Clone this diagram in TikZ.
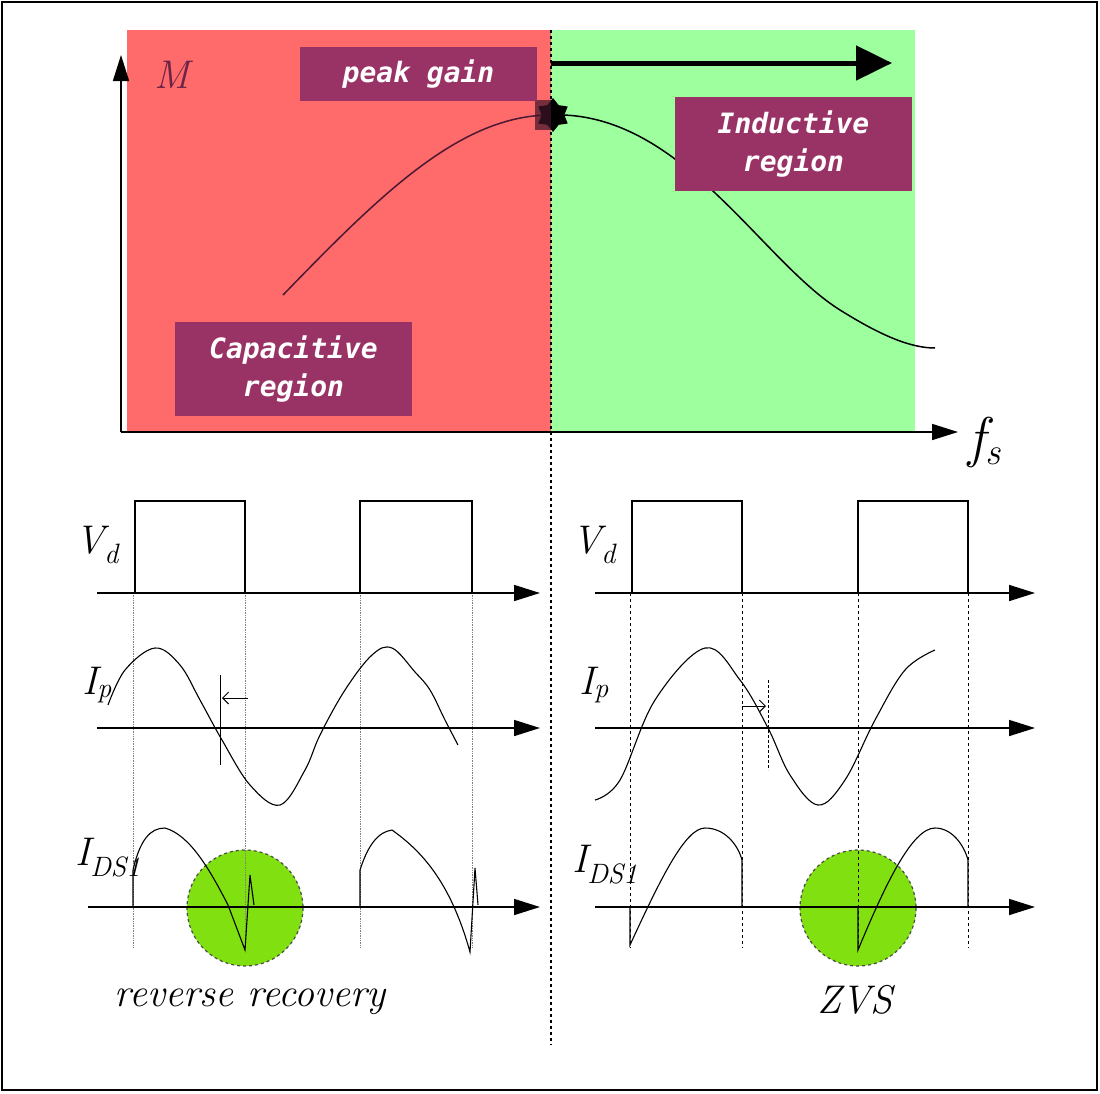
\documentclass[tikz,border=0pt]{standalone}
\usepackage{fontspec}
\newfontfamily\boxfont{DejaVu Sans Mono}
\usetikzlibrary{arrows.meta,shapes.geometric}
\definecolor{redbg}{HTML}{FF6A6A}
\definecolor{greenbg}{HTML}{9DFF9D}
\definecolor{purp}{HTML}{993366}
\definecolor{circ}{HTML}{80E010}
\tikzset{
 lbl/.style={fill=purp,text=white,font=\boxfont\bfseries\itshape\fontsize{28}{38}\selectfont,align=center,inner sep=0pt},
 ax/.style={line width=1.6pt,-{Triangle[length=26pt,width=16pt]}},
 wave/.style={line width=1.1pt},
 guide/.style={dashed,line width=0.7pt},
 sig/.style={font=\fontsize{40}{42}\selectfont\itshape}
}
\newcommand{\subsz}[1]{\textsubscript{\fontsize{28}{28}\selectfont #1}}
\begin{document}
\begin{tikzpicture}[x=1pt,y=-1pt]
\useasboundingbox (0,0) rectangle (1100,1093);
\fill[white] (0,0) rectangle (1100,1093);
\draw[line width=2pt] (2,2) rectangle (1097,1090);
\fill[redbg] (127,30) rectangle (551,432);
\fill[greenbg] (551,30) rectangle (915,432);
\draw[ax] (121,432) -- (121,55);
\draw[ax] (121,432) -- (958,432);
\node[font=\fontsize{40}{42}\selectfont\itshape,text=purp!70!black] (M) at (172,75) {M};
\node[font=\fontsize{56}{58}\selectfont\itshape] (fs) at (985,442) {f\textsubscript{\fontsize{38}{38}\selectfont s}};
\draw[line width=1.6pt,dashed] (551,30) -- (551,1045);
\draw[line width=1.5pt,purp!50!black] (283,295) .. controls (380,195) and (460,115) .. (551,115);
\draw[line width=1.5pt] (551,115) .. controls (680,110) and (760,260) .. (840,310) .. controls (880,335) and (910,348) .. (935,348);
\node[star,star points=6,fill=black,minimum size=34pt,inner sep=0pt] (pk) at (553,115) {};
\fill[purp!40!black,opacity=0.7] (535,100) rectangle (551,130);
\coordinate (a1) at (551,63);
\coordinate (a2) at (892,63);
\draw[line width=5pt,-{Triangle[length=36pt,width=34pt]}] (a1) -- (a2);
\node[lbl,minimum width=237pt,minimum height=54pt] (pg) at (418.5,74) {peak gain};
\node[lbl,minimum width=237pt,minimum height=94pt] (ind) at (793.5,144) {Inductive\\region};
\node[lbl,minimum width=237pt,minimum height=94pt] (cap) at (293.5,369) {Capacitive\\region};
% green circles
\draw[fill=circ,dashed,line width=1.2pt,draw=black!70] (245,908) circle (58);
\draw[fill=circ,dashed,line width=1.2pt,draw=black!70] (858,908) circle (58);
% guides
\foreach \x in {133,245,360,472}{\draw[densely dotted,line width=0.7pt,gray] (\x,593) -- (\x,948);}
\foreach \x in {630,742,858,968}{\draw[guide] (\x,593) -- (\x,948);}
% axes
\draw[ax] (97,593) -- (540,593);
\draw[ax] (97,728) -- (540,728);
\draw[ax] (88,907) -- (540,907);
\draw[ax] (595,593) -- (1035,593);
\draw[ax] (595,728) -- (1035,728);
\draw[ax] (595,907) -- (1035,907);
% labels
\node[sig] (vd1) at (97,545) {V\subsz{d}};
\node[sig] (ip1) at (97,685) {I\subsz{p}};
\node[sig] (id1) at (108,858) {I\subsz{DS1}};
\node[sig] (vd2) at (594,545) {V\subsz{d}};
\node[sig] (ip2) at (594,685) {I\subsz{p}};
\node[sig] (id2) at (605,865) {I\subsz{DS1}};
\node[font=\fontsize{40}{42}\selectfont\itshape] (rr) at (250,1002) {reverse recovery};
\node[font=\fontsize{40}{42}\selectfont\itshape] (zvs) at (855,1000) {ZVS};
% Vd
\draw[wave] (135,593) -- (135,501) -- (245,501) -- (245,593);
\draw[wave] (360,593) -- (360,501) -- (472,501) -- (472,593);
\draw[wave] (632,593) -- (632,501) -- (742,501) -- (742,593);
\draw[wave] (858,593) -- (858,501) -- (968,501) -- (968,593);
% Ip left
\draw[wave] plot[smooth,tension=0.6] coordinates {(108,705) (125,670) (155,648) (180,665) (200,700) (222,740) (250,785) (280,805) (305,770) (320,735) (345,690) (372,655) (392,648) (415,672) (430,690) (445,720) (458,745)};
\draw[line width=0.9pt] (220,675) -- (220,765);
\draw[line width=0.9pt,-{Straight Barb[length=6pt]}] (248,698) -- (222,698);
% Ip right
\draw[wave] plot[smooth,tension=0.6] coordinates {(595,800) (620,780) (655,700) (705,648) (740,680) (768,728) (790,775) (818,805) (845,780) (875,720) (905,670) (935,650)};
\draw[line width=0.9pt,densely dashed] (768,680) -- (768,770);
\draw[line width=0.9pt,-{Straight Barb[length=6pt]}] (742,706) -- (766,706);
% IDS1 left
\draw[wave] (133,907) -- (133,870) .. controls (140,840) and (150,828) .. (165,828) .. controls (190,835) and (210,870) .. (228,905) -- (245,950) -- (250,875) -- (254,905);
\draw[wave] (360,907) -- (360,870) .. controls (368,845) and (378,832) .. (392,830) .. controls (420,850) and (450,880) .. (470,952) -- (475,868) -- (478,905);
% IDS1 right
\draw[wave] (630,907) -- (630,945) .. controls (660,880) and (685,828) .. (705,828) .. controls (725,828) and (738,845) .. (742,860) -- (742,907);
\draw[wave] (858,907) -- (858,950) .. controls (885,885) and (912,828) .. (935,828) .. controls (952,828) and (964,845) .. (968,860) -- (968,907);
\end{tikzpicture}
\end{document}
